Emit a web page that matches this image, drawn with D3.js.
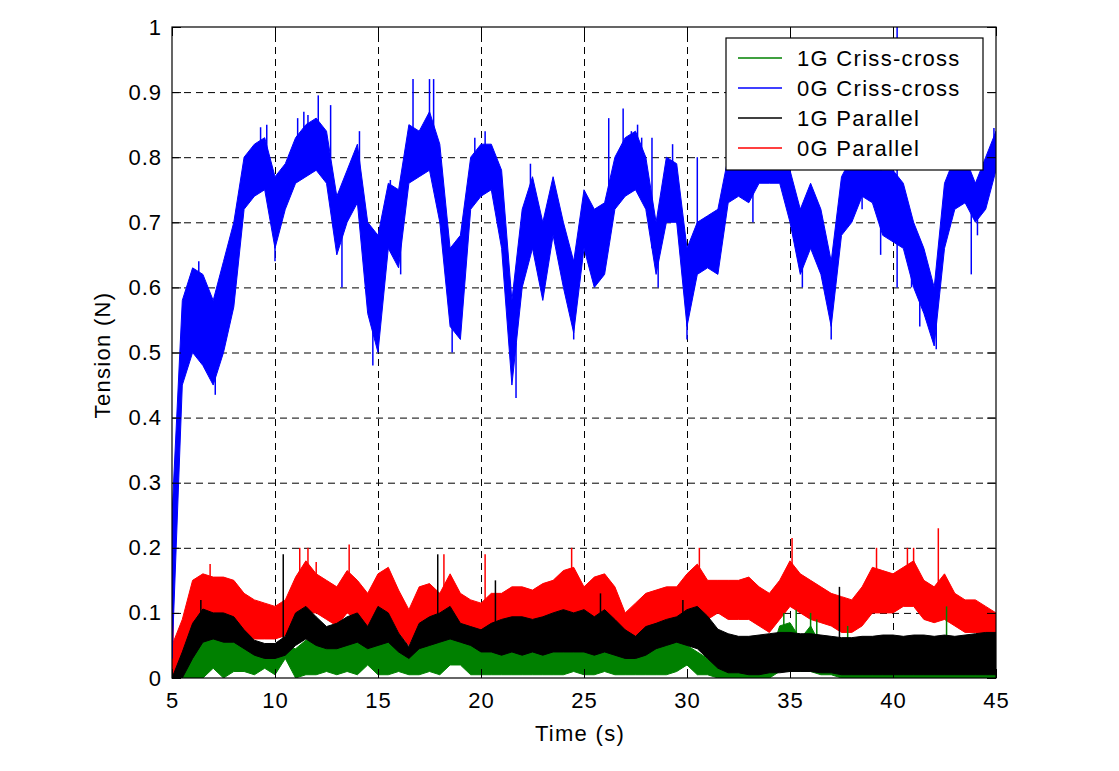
<!DOCTYPE html>
<html>
<head>
<meta charset="utf-8">
<script src="https://cdn.jsdelivr.net/npm/d3@7"></script>
<style>
  body { margin: 0; background: #fff; }
  svg { display: block; }
  text { font-family: "Liberation Sans", Arial, sans-serif; fill: #000; }
</style>
</head>
<body>
<svg id="chart" width="1119" height="771"></svg>
<script>
// sample times (s)
const TIME = [
  5, 5.5, 6, 6.5, 7, 7.5, 8, 8.5, 9, 9.5,
  10, 10.5, 11, 11.5, 12, 12.5, 13, 13.5, 14, 14.5,
  15, 15.5, 16, 16.5, 17, 17.5, 18, 18.5, 19, 19.5,
  20, 20.5, 21, 21.5, 22, 22.5, 23, 23.5, 24, 24.5,
  25, 25.5, 26, 26.5, 27, 27.5, 28, 28.5, 29, 29.5,
  30, 30.5, 31, 31.5, 32, 32.5, 33, 33.5, 34, 34.5,
  35, 35.5, 36, 36.5, 37, 37.5, 38, 38.5, 39, 39.5,
  40, 40.5, 41, 41.5, 42, 42.5, 43, 43.5, 44, 44.5,
  45
];

// 0G Criss-cross (blue): lower / upper edge of the noisy trace
const BLUE_LO = [
  0.03, 0.45, 0.50, 0.48, 0.45, 0.50, 0.57, 0.72, 0.74, 0.75,
  0.66, 0.72, 0.76, 0.77, 0.78, 0.76, 0.65, 0.70, 0.73, 0.56,
  0.50, 0.66, 0.63, 0.76, 0.77, 0.78, 0.70, 0.54, 0.52, 0.72,
  0.74, 0.75, 0.66, 0.45, 0.60, 0.66, 0.58, 0.68, 0.60, 0.53,
  0.66, 0.60, 0.62, 0.72, 0.74, 0.75, 0.72, 0.62, 0.70, 0.70,
  0.54, 0.62, 0.63, 0.62, 0.73, 0.74, 0.73, 0.76, 0.76, 0.76,
  0.70, 0.62, 0.66, 0.62, 0.54, 0.68, 0.70, 0.74, 0.73, 0.68,
  0.67, 0.66, 0.60, 0.56, 0.51, 0.66, 0.72, 0.73, 0.70, 0.72,
  0.78
];
const BLUE_HI = [
  0.25, 0.58, 0.63, 0.62, 0.58, 0.64, 0.70, 0.80, 0.82, 0.83,
  0.77, 0.79, 0.83, 0.85, 0.86, 0.84, 0.74, 0.78, 0.82, 0.70,
  0.68, 0.76, 0.75, 0.85, 0.84, 0.87, 0.82, 0.66, 0.68, 0.80,
  0.82, 0.82, 0.78, 0.58, 0.72, 0.77, 0.70, 0.77, 0.70, 0.64,
  0.75, 0.72, 0.73, 0.80, 0.83, 0.84, 0.80, 0.70, 0.80, 0.79,
  0.66, 0.70, 0.71, 0.72, 0.80, 0.82, 0.80, 0.82, 0.83, 0.82,
  0.78, 0.72, 0.76, 0.72, 0.64, 0.77, 0.80, 0.82, 0.80, 0.78,
  0.78, 0.76, 0.70, 0.66, 0.60, 0.76, 0.80, 0.80, 0.76, 0.80,
  0.84
];
const BLUE_SPIKE_T = [6.3, 7.1, 7.6, 9.3, 9.6, 10.0, 11.1, 11.4, 11.6, 12.1, 12.7, 13.25, 14.1, 14.75, 15.6, 16.1,
  16.7, 17.5, 17.7, 18.6, 19.7, 20.2, 21.7, 22.4, 24.5, 26.2, 26.9, 27.3, 27.6, 27.8, 28.3, 28.6, 29.3, 30.0,
  30.5, 33.2, 35.6, 37.0, 38.5, 39.4, 40.2, 40.2, 40.9, 41.3, 42.1, 43.8, 44.1, 44.9];
const BLUE_SPIKE_V = [0.64, 0.435, 0.64, 0.846, 0.85, 0.64, 0.86, 0.87, 0.865, 0.895, 0.88, 0.6, 0.84, 0.48, 0.765, 0.62,
  0.92, 0.92, 0.92, 0.5, 0.83, 0.84, 0.43, 0.79, 0.52, 0.86, 0.875, 0.84, 0.85, 0.83, 0.83, 0.6, 0.82, 0.52,
  0.80, 0.70, 0.6, 0.52, 0.72, 0.65, 1.05, 0.6, 0.6, 0.54, 0.505, 0.62, 0.68, 0.845];

// 0G Parallel (red)
const RED_LO = [
  0.00, 0.02, 0.06, 0.08, 0.09, 0.09, 0.08, 0.07, 0.06, 0.06,
  0.06, 0.065, 0.08, 0.10, 0.10, 0.09, 0.08, 0.10, 0.09, 0.07,
  0.09, 0.10, 0.07, 0.05, 0.08, 0.09, 0.08, 0.10, 0.08, 0.07,
  0.07, 0.08, 0.08, 0.085, 0.085, 0.08, 0.09, 0.09, 0.10, 0.10,
  0.08, 0.09, 0.10, 0.08, 0.05, 0.05, 0.07, 0.08, 0.085, 0.085,
  0.09, 0.10, 0.09, 0.10, 0.09, 0.09, 0.09, 0.08, 0.07, 0.09,
  0.11, 0.10, 0.09, 0.085, 0.08, 0.07, 0.07, 0.08, 0.10, 0.10,
  0.10, 0.11, 0.11, 0.09, 0.085, 0.09, 0.08, 0.07, 0.07, 0.06,
  0.06
];
const RED_HI = [
  0.05, 0.09, 0.15, 0.16, 0.155, 0.155, 0.15, 0.13, 0.12, 0.115,
  0.11, 0.12, 0.155, 0.18, 0.16, 0.15, 0.14, 0.165, 0.15, 0.13,
  0.16, 0.17, 0.135, 0.105, 0.14, 0.145, 0.13, 0.16, 0.13, 0.12,
  0.115, 0.13, 0.13, 0.14, 0.14, 0.135, 0.145, 0.15, 0.165, 0.17,
  0.14, 0.155, 0.16, 0.14, 0.10, 0.115, 0.13, 0.135, 0.14, 0.14,
  0.16, 0.175, 0.15, 0.15, 0.15, 0.15, 0.155, 0.14, 0.13, 0.15,
  0.18, 0.16, 0.15, 0.14, 0.13, 0.125, 0.12, 0.14, 0.17, 0.165,
  0.16, 0.17, 0.18, 0.15, 0.14, 0.16, 0.13, 0.12, 0.12, 0.11,
  0.10
];
const RED_SPIKE_T = [5.05, 6.85, 11.2, 11.6, 12.0, 13.6, 18.2, 20.2, 24.4, 30.6, 35.1, 39.2, 40.7, 41.0, 42.2];
const RED_SPIKE_V = [0.23, 0.175, 0.2, 0.2, 0.178, 0.205, 0.19, 0.19, 0.2, 0.2, 0.215, 0.2, 0.2, 0.2, 0.23];

// 1G Parallel (black)
const BLACK_LO = [
  0.0, 0.0, 0.03, 0.055, 0.06, 0.055, 0.055, 0.045, 0.035, 0.03,
  0.03, 0.035, 0.05, 0.06, 0.05, 0.045, 0.045, 0.05, 0.055, 0.045,
  0.05, 0.055, 0.04, 0.03, 0.045, 0.05, 0.055, 0.06, 0.055, 0.05,
  0.04, 0.04, 0.035, 0.04, 0.035, 0.04, 0.035, 0.04, 0.04, 0.04,
  0.04, 0.035, 0.04, 0.035, 0.03, 0.03, 0.035, 0.045, 0.05, 0.055,
  0.05, 0.045, 0.03, 0.015, 0.008, 0.008, 0.005, 0.005, 0.008, 0.008,
  0.01, 0.01, 0.01, 0.008, 0.008, 0.005, 0.005, 0.005, 0.005, 0.005,
  0.005, 0.005, 0.005, 0.005, 0.005, 0.005, 0.005, 0.005, 0.005, 0.005,
  0.005
];
const BLACK_HI = [
  0.0, 0.04, 0.084, 0.106, 0.10, 0.10, 0.094, 0.074, 0.058, 0.053,
  0.053, 0.064, 0.10, 0.11, 0.094, 0.079, 0.084, 0.094, 0.10, 0.079,
  0.11, 0.10, 0.069, 0.048, 0.084, 0.094, 0.10, 0.11, 0.084, 0.079,
  0.074, 0.084, 0.09, 0.094, 0.094, 0.09, 0.094, 0.10, 0.105, 0.10,
  0.105, 0.094, 0.105, 0.09, 0.074, 0.064, 0.079, 0.084, 0.09, 0.094,
  0.105, 0.11, 0.095, 0.075, 0.068, 0.064, 0.064, 0.066, 0.068, 0.07,
  0.07, 0.068, 0.068, 0.066, 0.064, 0.062, 0.062, 0.064, 0.064, 0.066,
  0.066, 0.064, 0.066, 0.066, 0.064, 0.066, 0.064, 0.066, 0.068, 0.07,
  0.07
];
const BLACK_SPIKE_T = [6.4, 10.4, 17.9, 20.7, 25.8, 29.8, 37.4];
const BLACK_SPIKE_V = [0.12, 0.19, 0.19, 0.15, 0.13, 0.12, 0.14];

// 1G Criss-cross (green)
const GREEN_LO = [
  0.0, 0.0, 0.0, 0.0, 0.015, 0.0, 0.01, 0.01, 0.005, 0.015,
  0.005, 0.03, 0.0, 0.005, 0.005, 0.01, 0.005, 0.01, 0.005, 0.02,
  0.005, 0.005, 0.01, 0.005, 0.005, 0.01, 0.005, 0.02, 0.02, 0.005,
  0.005, 0.005, 0.005, 0.005, 0.005, 0.005, 0.005, 0.005, 0.005, 0.01,
  0.005, 0.005, 0.01, 0.005, 0.005, 0.005, 0.005, 0.005, 0.005, 0.01,
  0.02, 0.005, 0.005, 0.0, 0.0, 0.0, 0.0, 0.0, 0.0, 0.01,
  0.01, 0.01, 0.01, 0.005, 0.005, 0.0, 0.0, 0.0, 0.0, 0.0,
  0.0, 0.0, 0.0, 0.0, 0.0, 0.0, 0.0, 0.0, 0.0, 0.0,
  0.0
];
const GREEN_HI = [
  0.0, 0.02, 0.043, 0.074, 0.079, 0.058, 0.065, 0.053, 0.045, 0.04,
  0.045, 0.048, 0.045, 0.058, 0.055, 0.045, 0.05, 0.055, 0.058, 0.045,
  0.05, 0.065, 0.055, 0.04, 0.05, 0.055, 0.06, 0.07, 0.065, 0.065,
  0.05, 0.045, 0.04, 0.045, 0.04, 0.04, 0.045, 0.04, 0.04, 0.045,
  0.045, 0.04, 0.045, 0.04, 0.035, 0.035, 0.045, 0.055, 0.06, 0.065,
  0.05, 0.04, 0.03, 0.02, 0.02, 0.02, 0.015, 0.02, 0.03, 0.08,
  0.085, 0.06, 0.08, 0.05, 0.03, 0.02, 0.02, 0.025, 0.02, 0.02,
  0.02, 0.015, 0.02, 0.02, 0.025, 0.03, 0.02, 0.02, 0.025, 0.03,
  0.035
];
const GREEN_SPIKE_T = [34.7, 35.3, 36.0, 36.3, 37.8, 42.6];
const GREEN_SPIKE_V = [0.1, 0.105, 0.1, 0.09, 0.08, 0.11];

const X_TICKS = [5, 10, 15, 20, 25, 30, 35, 40, 45];
const Y_TICKS = [0, 0.1, 0.2, 0.3, 0.4, 0.5, 0.6, 0.7, 0.8, 0.9, 1];

const SERIES = [
  { name: "1G Criss-cross", color: "#008000", lo: GREEN_LO, hi: GREEN_HI, st: GREEN_SPIKE_T, sv: GREEN_SPIKE_V },
  { name: "0G Criss-cross", color: "#0000ff", lo: BLUE_LO, hi: BLUE_HI, st: BLUE_SPIKE_T, sv: BLUE_SPIKE_V },
  { name: "1G Parallel", color: "#000000", lo: BLACK_LO, hi: BLACK_HI, st: BLACK_SPIKE_T, sv: BLACK_SPIKE_V },
  { name: "0G Parallel", color: "#ff0000", lo: RED_LO, hi: RED_HI, st: RED_SPIKE_T, sv: RED_SPIKE_V },
];
// draw order: red at the back, then green, black, blue
const DRAW_ORDER = [3, 0, 2, 1];

const svg = d3.select("#chart");
const L = 172, R = 996, T = 27, B = 678;
const x = d3.scaleLinear().domain([5, 45]).range([L, R]);
const y = d3.scaleLinear().domain([0, 1]).range([B, T]);

svg.append("defs").append("clipPath").attr("id", "plotclip")
  .append("rect").attr("x", L).attr("y", T).attr("width", R - L).attr("height", B - T);

// grid (dashed)
const grid = svg.append("g");
grid.append("g").attr("transform", `translate(0,${B})`)
  .call(d3.axisBottom(x).tickValues(X_TICKS.slice(1, -1)).tickSize(-(B - T)).tickFormat(""))
  .call(g => g.select(".domain").remove());
grid.append("g").attr("transform", `translate(${L},0)`)
  .call(d3.axisLeft(y).tickValues(Y_TICKS.slice(1, -1)).tickSize(-(R - L)).tickFormat(""))
  .call(g => g.select(".domain").remove());
grid.selectAll("line").attr("stroke", "#000").attr("stroke-width", 1).attr("stroke-dasharray", "7,5");

// series
const plot = svg.append("g").attr("clip-path", "url(#plotclip)");
const area = d3.area()
  .x((d, i) => x(TIME[i]))
  .y0(d => y(d[0]))
  .y1(d => y(d[1]));

DRAW_ORDER.forEach(k => {
  const s = SERIES[k];
  const band = d3.zip(s.lo, s.hi);
  const g = plot.append("g");
  g.append("path")
    .attr("d", area(band))
    .attr("fill", s.color)
    .attr("stroke", s.color)
    .attr("stroke-width", 1)
    .attr("stroke-linejoin", "round");
  g.selectAll("line.spike")
    .data(s.st.map((t, i) => [t, s.sv[i]]))
    .join("line")
    .attr("class", "spike")
    .attr("x1", d => x(d[0])).attr("x2", d => x(d[0]))
    .attr("y1", d => {
      const i = d3.bisectCenter(TIME, d[0]);
      return y((s.lo[i] + s.hi[i]) / 2);
    })
    .attr("y2", d => y(d[1]))
    .attr("stroke", s.color)
    .attr("stroke-width", 1.5);
});

// axes box + inward ticks
const tk = 9;
svg.append("g").attr("transform", `translate(0,${B})`)
  .call(d3.axisBottom(x).tickValues(X_TICKS).tickSize(-tk).tickFormat(""));
svg.append("g").attr("transform", `translate(0,${T})`)
  .call(d3.axisTop(x).tickValues(X_TICKS).tickSize(-tk).tickFormat(""));
svg.append("g").attr("transform", `translate(${L},0)`)
  .call(d3.axisLeft(y).tickValues(Y_TICKS).tickSize(-tk).tickFormat(""));
svg.append("g").attr("transform", `translate(${R},0)`)
  .call(d3.axisRight(y).tickValues(Y_TICKS).tickSize(-tk).tickFormat(""));
svg.selectAll(".domain").remove();
svg.selectAll(".tick line").filter(function () { return !this.getAttribute("stroke-dasharray"); })
  .attr("stroke", "#000");
svg.append("rect").attr("x", L).attr("y", T).attr("width", R - L).attr("height", B - T)
  .attr("fill", "none").attr("stroke", "#000").attr("stroke-width", 1.2);

// tick labels
const xl = svg.append("g").attr("transform", `translate(0,${B})`)
  .call(d3.axisBottom(x).tickValues(X_TICKS).tickSize(0).tickPadding(14).tickFormat(d3.format("d")));
const yl = svg.append("g").attr("transform", `translate(${L},0)`)
  .call(d3.axisLeft(y).tickValues(Y_TICKS).tickSize(0).tickPadding(10).tickFormat(d => d === 0 || d === 1 ? String(d) : d3.format(".1f")(d)));
[xl, yl].forEach(g => {
  g.select(".domain").remove();
  g.selectAll("text").attr("font-size", 22).attr("fill", "#000")
    .attr("font-family", "Liberation Sans, Arial, sans-serif").style("letter-spacing", "1px");
});

// axis titles
svg.append("text").attr("x", 580).attr("y", 741).attr("text-anchor", "middle")
  .attr("font-size", 22).style("letter-spacing", "1.3px").text("Time (s)");
svg.append("text").attr("transform", "translate(110,355) rotate(-90)").attr("text-anchor", "middle")
  .attr("font-size", 22).style("letter-spacing", "1.3px").text("Tension (N)");

// legend
const leg = svg.append("g");
leg.append("rect").attr("x", 726).attr("y", 38).attr("width", 257).attr("height", 132)
  .attr("fill", "#fff").attr("stroke", "#000").attr("stroke-width", 1.2);
SERIES.forEach((s, i) => {
  const ry = 58 + i * 30;
  leg.append("line").attr("x1", 738).attr("x2", 782).attr("y1", ry).attr("y2", ry)
    .attr("stroke", s.color).attr("stroke-width", 1.5);
  leg.append("text").attr("x", 797).attr("y", ry + 8).attr("font-size", 22)
    .style("letter-spacing", "1.3px").text(s.name);
});
</script>
</body>
</html>
